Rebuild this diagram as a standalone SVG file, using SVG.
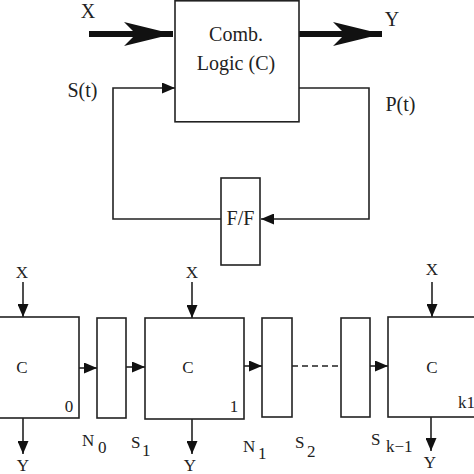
<svg xmlns="http://www.w3.org/2000/svg" width="474" height="474" viewBox="0 0 474 474">
<style>
.box{fill:#fff;stroke:#222;stroke-width:1.6}
.ln{fill:none;stroke:#222;stroke-width:1.6}
.thick{fill:none;stroke:#111;stroke-width:6}
.t{font-family:"Liberation Serif",serif;fill:#222}
.big{font-size:20px}
.mid{font-size:17px}
</style>
<defs>
<marker id="ah" markerUnits="userSpaceOnUse" markerWidth="13" markerHeight="11" refX="13" refY="5.5" orient="auto">
<path d="M0,0 L13,5.5 L0,11 z" fill="#111"/>
</marker>
<marker id="big" markerUnits="userSpaceOnUse" markerWidth="50" markerHeight="24" refX="49" refY="12" orient="auto">
<path d="M0,0 L49,12 L0,24 L12,12 z" fill="#111"/>
</marker>
</defs>

<g id="connectors">
<line class="thick" x1="89" y1="34" x2="173" y2="34" marker-end="url(#big)"/>
<line class="thick" x1="299" y1="34" x2="382" y2="34" marker-end="url(#big)"/>
<polyline class="ln" points="221,219 113,219 113,88 175,88" marker-end="url(#ah)"/>
<polyline class="ln" points="299,88 369,88 369,219 261,219" marker-end="url(#ah)"/>
<line class="ln" x1="23" y1="282" x2="23" y2="317" marker-end="url(#ah)"/>
<line class="ln" x1="23" y1="418" x2="23" y2="454" marker-end="url(#ah)"/>
<line class="ln" x1="192" y1="282" x2="192" y2="318" marker-end="url(#ah)"/>
<line class="ln" x1="192" y1="419" x2="192" y2="454" marker-end="url(#ah)"/>
<line class="ln" x1="432" y1="282" x2="432" y2="317" marker-end="url(#ah)"/>
<line class="ln" x1="431" y1="417" x2="431" y2="451" marker-end="url(#ah)"/>
<line class="ln" x1="79" y1="368" x2="97" y2="368" marker-end="url(#ah)"/>
<line class="ln" x1="126" y1="367" x2="145" y2="367" marker-end="url(#ah)"/>
<line class="ln" x1="244" y1="366" x2="262" y2="366" marker-end="url(#ah)"/>
<line class="ln" x1="292" y1="366" x2="338" y2="366" stroke-dasharray="6,4"/>
<line class="ln" x1="370" y1="366" x2="388" y2="366" marker-end="url(#ah)"/>
</g>

<g id="comb">
<rect class="box" x="175" y="0.8" width="124" height="121"/>
<text class="t big" x="236" y="41" text-anchor="middle">Comb.</text>
<text class="t big" x="236" y="70" text-anchor="middle">Logic (C)</text>
</g>
<g id="ff">
<rect class="box" x="221" y="178" width="39" height="87"/>
<text class="t big" x="240.5" y="225" text-anchor="middle">F/F</text>
</g>

<g id="labels-top">
<text class="t big" x="88" y="18" text-anchor="middle">X</text>
<text class="t big" x="392" y="26" text-anchor="middle">Y</text>
<text class="t big" x="82.5" y="97" text-anchor="middle">S(t)</text>
<text class="t big" x="400.5" y="111" text-anchor="middle">P(t)</text>
</g>

<g id="c0">
<rect class="box" x="-2" y="317" width="81" height="101"/>
<text class="t mid" x="22" y="373" text-anchor="middle">C</text>
<text class="t mid" x="69" y="412" text-anchor="middle">0</text>
</g>
<g id="ff0"><rect class="box" x="97" y="318" width="29" height="100"/></g>
<g id="c1">
<rect class="box" x="145" y="318" width="99" height="101"/>
<text class="t mid" x="188" y="373" text-anchor="middle">C</text>
<text class="t mid" x="234" y="412" text-anchor="middle">1</text>
</g>
<g id="ff1"><rect class="box" x="262" y="318" width="30" height="99"/></g>
<g id="ffk"><rect class="box" x="341" y="318" width="29" height="99"/></g>
<g id="ck">
<rect class="box" x="388" y="317" width="90" height="100"/>
<text class="t mid" x="432" y="373" text-anchor="middle">C</text>
<text class="t mid" x="458" y="408">k1</text>
</g>

<g id="labels-bottom">
<text class="t mid" x="22" y="278" text-anchor="middle">X</text>
<text class="t mid" x="192" y="278" text-anchor="middle">X</text>
<text class="t mid" x="432" y="275" text-anchor="middle">X</text>
<text class="t mid" x="23" y="471" text-anchor="middle">Y</text>
<text class="t mid" x="190" y="471" text-anchor="middle">Y</text>
<text class="t mid" x="430" y="468" text-anchor="middle">Y</text>
<text class="t mid" x="82" y="446">N</text><text class="t mid" x="98" y="453">0</text>
<text class="t mid" x="131" y="448">S</text><text class="t mid" x="142" y="456">1</text>
<text class="t mid" x="243" y="452">N</text><text class="t mid" x="258" y="459">1</text>
<text class="t mid" x="295" y="448">S</text><text class="t mid" x="307" y="457">2</text>
<text class="t mid" x="371" y="445">S</text><text class="t mid" x="386" y="452">k−1</text>
</g>
</svg>
